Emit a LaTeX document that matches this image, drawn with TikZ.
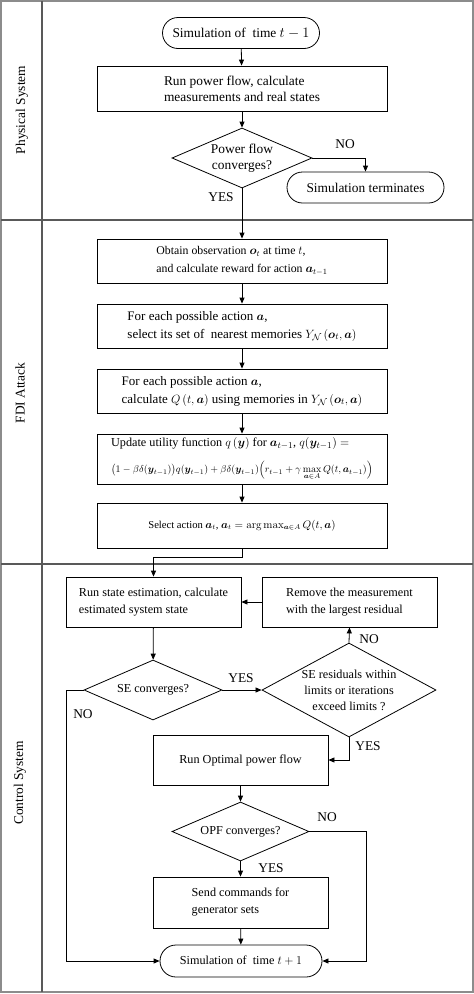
\documentclass[tikz,border=0pt]{standalone}
\usepackage{amsmath}
\usepackage{bm}
\usepackage[no-math]{fontspec}
\setmainfont{Liberation Serif}
\usetikzlibrary{shapes.geometric,arrows.meta}
\tikzset{
  box/.style={draw,rectangle,minimum width=290pt,minimum height=44pt,inner sep=2pt,align=left},
  sbox/.style={draw,rectangle,minimum width=175pt,minimum height=50pt,inner sep=2pt,align=left},
  term/.style={draw,rectangle,rounded corners=15.5pt,minimum width=157pt,minimum height=31pt,inner sep=1pt},
  dec/.style 2 args={draw,diamond,inner sep=0pt,minimum width=#1,minimum height=#2},
  dectext/.style={align=center,inner sep=0pt},
  lbl/.style={inner sep=1pt},
  arr/.style={-{Triangle[length=6pt,width=5pt]}},
  sep/.style={draw=black!65,line width=1.3pt}
}
\begin{document}
\begin{tikzpicture}[x=1pt,y=-1pt,line width=.8pt,font=\fontsize{13.4}{16}\selectfont]
\useasboundingbox (0,0) rectangle (474,994);
% frame and lanes
\draw[black!45,line width=1.6pt](1,1) rectangle (473,992);
\draw[sep](42,1)--(42,992);\draw[sep](1,220)--(473,220);\draw[sep](1,564)--(473,564);
\node[rotate=90] (lanePS) at(22,110){Physical System};
\node[rotate=90] (laneFDI) at(20,393){FDI Attack};
\node[rotate=90] (laneCS) at(20,783){Control System};
% physical system
\node[term] (start) at(241,33){Simulation of \ time $t-1$};
\node[box,minimum height=45pt] (pf) at(242,88.5){Run power flow, calculate\\measurements and real states};
\node[dec={140pt}{60pt}] (pfc) at(242,158){};
\node[dectext] (pfcT) at(242,158){Power flow\\converges?};
\node[term] (stop) at(365.5,187.5){Simulation terminates};
% FDI attack
\begin{scope}[font=\fontsize{13}{18}\selectfont]
\node[box,font=\fontsize{11.8}{18}\selectfont] (obs) at(242,261){Obtain observation $\bm{o}_t$ at time $t$,\\and calculate reward for action $\bm{a}_{t-1}$};
\node[box] (sel) at(242,326){For each possible action $\bm{a}$,\\select its set of \ nearest memories $Y_{\mathcal{N}}\left(\bm{o}_t,\bm{a}\right)$};
\node[box] (cal) at(242,391){For each possible action $\bm{a}$,\\calculate $Q\left(t,\bm{a}\right)$ using memories in $Y_{\mathcal{N}}\left(\bm{o}_t,\bm{a}\right)$};
\node[box,minimum height=50pt,font=\fontsize{10.4}{26}\selectfont] (upd) at(242,459){{\fontsize{12.2}{26}\selectfont Update utility function $q\left(\bm{y}\right)$ for $\bm{a}_{t-1}$, $q(\bm{y}_{t-1})=$}\\$\bigl(1-\beta\delta(\bm{y}_{t-1})\bigr)q(\bm{y}_{t-1})+\beta\delta(\bm{y}_{t-1})\Bigl(r_{t-1}+\gamma\max\limits_{\bm{a}\in A}Q(t,\bm{a}_{t-1})\Bigr)$};
\node[box,minimum height=45pt,font=\fontsize{10.6}{16}\selectfont,align=center] (act) at(242,525.5){Select action $\bm{a}_t$, $\bm{a}_t=\arg\max_{\bm{a}\in A}Q(t,\bm{a})$};
\end{scope}
% control system
\begin{scope}[font=\fontsize{12.2}{17}\selectfont]
\node[sbox] (se) at(153.5,602){Run state estimation, calculate\\estimated system state};
\node[sbox] (rem) at(349.5,602){Remove the measurement\\with the largest residual};
\node[dec={138pt}{60pt}] (sec) at(153,690){};
\node[dectext] (secT) at(153,690){SE converges?};
\node[dec={174pt}{94pt}] (res) at(349,690){};
\node[dectext,font=\fontsize{12.2}{16}\selectfont] (resT) at(349,690){SE residuals within\\limits or iterations\\exceed limits ?};
\node[sbox] (opf) at(240.5,760){Run Optimal power flow};
\node[dec={137pt}{59pt}] (opfc) at(240.5,831.5){};
\node[dectext] (opfcT) at(240.5,831.5){OPF converges?};
\node[sbox,minimum height=51pt] (cmd) at(240.5,902.5){Send commands for\\ generator sets};
\node[term,minimum width=162pt,minimum height=32pt,rounded corners=16pt] (next) at(241,961){Simulation of \ time $t+1$};
\end{scope}
% connectors
\draw[arr](start)--(pf);\draw[arr](pf)--(pfc);
\draw[arr](pfc.east)-|(stop.north);
\draw[arr](pfc)--(obs);
\draw[arr](obs)--(sel);\draw[arr](sel)--(cal);\draw[arr](cal)--(upd);\draw[arr](upd)--(act);
\draw[arr](act.south)--++(0,9)-|(se.north);
\draw[arr](rem)--(se);\draw[arr](se)--(sec);\draw[arr](sec)--(res);
\draw[arr](res.north)--(rem.south);
\draw[arr](sec.west)--++(-17,0)|-(next.west);
\draw[arr](res.south)|-(opf.east);
\draw[arr](opf)--(opfc);\draw[arr](opfc)--(cmd);
\draw[arr](opfc.east)--++(57,0)|-(next.east);
\draw[arr](cmd)--(next);
% branch labels
\node[lbl] (no1) at(345,144){NO};\node[lbl] (yes1) at(221,197){YES};
\node[lbl] (yes2) at(241,678){YES};\node[lbl] (no2) at(369,639){NO};
\node[lbl] (no3) at(83,714){NO};\node[lbl] (yes3) at(368,746){YES};
\node[lbl] (no4) at(327,817){NO};\node[lbl] (yes4) at(271,868){YES};
\end{tikzpicture}
\end{document}
